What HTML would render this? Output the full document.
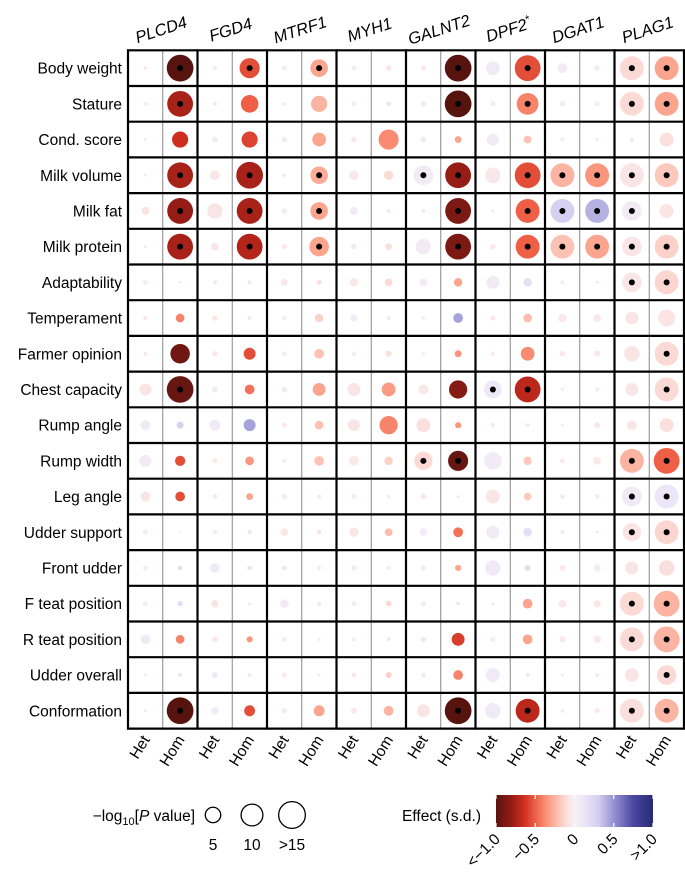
<!DOCTYPE html>
<html><head><meta charset="utf-8">
<style>
html,body{margin:0;padding:0;background:#fff;}
svg{display:block;font-family:"Liberation Sans",Arial,sans-serif;}
</style></head>
<body>
<svg id="chart" width="685" height="873" viewBox="0 0 685 873" xmlns="http://www.w3.org/2000/svg"></svg>
<script>
const genes = ["PLCD4","FGD4","MTRF1","MYH1","GALNT2","DPF2*","DGAT1","PLAG1"];
const genotypes = ["Het","Hom"];
const traits = ["Body weight","Stature","Cond. score","Milk volume","Milk fat","Milk protein","Adaptability","Temperament","Farmer opinion","Chest capacity","Rump angle","Rump width","Leg angle","Udder support","Front udder","F teat position","R teat position","Udder overall","Conformation"];
// -log10 P per trait row, 16 columns (gene x Het/Hom)
const pValues = [
[.3,15,.4,8.5,.5,6.5,.5,.6,.5,15,4,14,2,.6,12,12],
[.3,14,.3,6.5,.3,5.5,.5,.5,.6,15,.6,10,.6,.5,12,12],
[.2,5.5,.7,5.5,.6,4,.6,8.5,.7,1,3,1.3,.4,.2,.4,4],
[.2,14,2,15,.2,6.5,1.8,1.8,8,14,5,14,12,12,12,12],
[1.3,14,5,14,.6,6.5,1.3,.3,.3,14,.2,12,12,12,8,4],
[.2,14,1.2,14,.5,8,.6,1,5,14,.6,12,12,12,8,12],
[.5,.15,.4,.3,1,.5,1.5,1.2,1.2,1.5,3.5,1.5,.3,.2,8,12],
[.4,1.6,.6,.3,.3,1.5,1,.3,.2,2,.5,1.6,1.5,1.2,3.5,6],
[.3,8,.6,3,.4,2,.4,.8,.2,1,.4,4,.7,.8,5,12],
[3,15,.7,2,.7,3.5,3.5,4,2,7,6.5,14,.2,.3,3.5,12],
[2,1,2.5,3,.5,1.6,3,7,4,.8,.5,.3,.15,.7,2,4],
[3,2.2,.5,1.6,.3,2,2,1.5,7,8.5,6.5,1.5,.5,1.2,12,14],
[2,2,.5,1,.6,.3,.6,.3,.7,.15,4,1.2,.4,.5,8,12],
[.5,.1,.4,.4,1.2,.4,1.8,1.3,1.2,2,3.5,1.6,.3,.2,7,12],
[.4,.4,2,.4,.5,.3,.5,.3,.5,.8,5,.7,.7,1,3.5,5],
[.5,.6,1.2,.2,1.5,.4,.5,.7,.6,.3,.2,2,1.2,1.1,12,14],
[2,1.6,.7,.8,.4,.2,.3,.3,.7,3.5,.5,2,.8,1.2,12,14],
[.2,.3,.8,.3,.5,.2,.5,.8,.5,2,4,.3,.2,.3,4,8],
[.2,15,1.2,2.5,.6,2.5,.7,2,3.5,15,5,12,.3,.5,12,12]
];
// effect size (s.d.)
const effects = [
[-.05,-1,.05,-.55,.05,-.3,.05,-.08,-.05,-1,.08,-.55,.06,.05,-.12,-.3],
[-.03,-.75,-.05,-.5,.05,-.25,.05,.12,-.05,-1,.05,-.4,.05,.05,-.12,-.3],
[-.03,-.65,.06,-.58,.05,-.3,-.05,-.38,.06,-.3,.08,-.2,.05,-.05,-.05,-.1],
[-.03,-.75,-.06,-.75,-.1,-.28,-.06,-.12,.06,-.8,-.05,-.55,-.25,-.35,-.07,-.18],
[-.08,-.8,-.07,-.75,.06,-.3,.06,-.05,-.05,-.88,-.05,-.5,.3,.4,.06,-.08],
[-.05,-.75,-.07,-.72,-.06,-.3,.06,-.1,.06,-.88,-.06,-.5,-.2,-.3,-.07,-.15],
[.05,-.05,.06,.12,-.06,-.1,-.06,-.12,.06,-.3,.06,.18,-.05,-.05,-.07,-.13],
[-.05,-.4,-.05,-.07,-.05,-.15,.06,-.05,-.05,.45,-.05,-.22,-.06,-.06,-.07,-.08],
[-.05,-.92,-.06,-.55,-.05,-.2,.05,-.1,-.05,-.35,-.05,-.38,-.05,-.06,-.07,-.12],
[-.08,-.95,.06,-.45,.06,-.3,-.07,-.33,-.06,-.85,.1,-.7,-.05,-.05,-.07,-.12],
[.08,.3,.08,.45,-.05,-.2,-.07,-.4,-.1,-.35,.05,.1,-.05,-.06,-.07,-.1],
[.06,-.55,-.05,-.35,-.05,-.2,-.06,-.15,-.12,-.95,.06,-.18,-.05,-.06,-.25,-.5],
[-.08,-.55,.06,-.3,.06,-.07,.06,.06,-.06,-.1,-.07,-.18,-.05,.05,.08,.12],
[.06,-.05,.06,.12,-.06,-.1,-.07,-.22,.06,-.45,.08,.18,-.05,-.05,-.08,-.13],
[-.05,.2,.07,.15,-.05,-.06,-.06,.07,.05,-.3,.07,.2,-.05,.06,-.07,-.1],
[.06,.2,-.07,.06,.06,.1,.05,-.12,.05,.12,-.05,-.3,-.06,-.06,-.12,-.25],
[.06,-.4,-.06,-.35,-.05,.06,-.05,-.07,.06,-.6,.05,-.3,-.05,-.06,-.12,-.25],
[-.05,.15,.06,.1,-.05,-.05,-.05,-.15,.05,-.4,.07,.1,-.05,-.05,-.07,-.12],
[-.05,-1,.06,-.55,.06,-.3,-.06,-.25,-.07,-1,.08,-.7,.05,-.06,-.1,-.25]
];
// significance marker (1 = black dot)
const significant = [
[0,1,0,1,0,1,0,0,0,1,0,1,0,0,1,1],
[0,1,0,0,0,0,0,0,0,1,0,1,0,0,1,1],
[0,0,0,0,0,0,0,0,0,0,0,0,0,0,0,0],
[0,1,0,1,0,1,0,0,1,1,0,1,1,1,1,1],
[0,1,0,1,0,1,0,0,0,1,0,1,1,1,1,0],
[0,1,0,1,0,1,0,0,0,1,0,1,1,1,1,1],
[0,0,0,0,0,0,0,0,0,0,0,0,0,0,1,1],
[0,0,0,0,0,0,0,0,0,0,0,0,0,0,0,0],
[0,0,0,0,0,0,0,0,0,0,0,0,0,0,0,1],
[0,1,0,0,0,0,0,0,0,0,1,1,0,0,0,1],
[0,0,0,0,0,0,0,0,0,0,0,0,0,0,0,0],
[0,0,0,0,0,0,0,0,1,1,0,0,0,0,1,1],
[0,0,0,0,0,0,0,0,0,0,0,0,0,0,1,1],
[0,0,0,0,0,0,0,0,0,0,0,0,0,0,1,1],
[0,0,0,0,0,0,0,0,0,0,0,0,0,0,0,0],
[0,0,0,0,0,0,0,0,0,0,0,0,0,0,1,1],
[0,0,0,0,0,0,0,0,0,0,0,0,0,0,1,1],
[0,0,0,0,0,0,0,0,0,0,0,0,0,0,0,1],
[0,1,0,0,0,0,0,0,0,1,0,1,0,0,1,1]
];
const sizeLegendValues = [5,10,15];
const sizeLegendLabels = ["5","10",">15"];
const colorTickValues = [-1,-0.5,0,0.5,1];
const colorTickLabels = ["<\u22121.0","\u22120.5","0","0.5",">1.0"];

const NS="http://www.w3.org/2000/svg";
const svg=document.getElementById('chart');
const L=128,R=684,T=50.3,B=728.6;
const nCols=genes.length*2, nRows=traits.length;
const cw=(R-L)/nCols, rh=(B-T)/nRows;
const xCol=i=>L+cw*(i+0.5);
const yRow=j=>T+rh*(j+0.5);
const rScale=p=>3.45*Math.sqrt(Math.min(p,15));
const stops=[[-1,[87,20,15]],[-.8,[150,28,22]],[-.65,[205,45,30]],[-.5,[238,95,70]],[-.35,[250,150,125]],[-.2,[252,195,180]],[-.08,[250,228,228]],[0,[248,238,242]],[.12,[236,230,248]],[.3,[214,208,240]],[.5,[150,146,210]],[.75,[74,71,160]],[1,[38,42,116]]];
function color(v){v=Math.max(-1,Math.min(1,v));for(let k=0;k<stops.length-1;k++){const a=stops[k],b=stops[k+1];if(v<=b[0]){const t=(v-a[0])/(b[0]-a[0]);const c=a[1].map((x,i)=>Math.round(x+(b[1][i]-x)*t));return `rgb(${c.join(',')})`;}}return 'rgb(38,42,116)';}
function el(tag,attrs,parent){const e=document.createElementNS(NS,tag);for(const k in attrs)e.setAttribute(k,attrs[k]);(parent||svg).appendChild(e);return e;}

// dots
const gDots=el('g',{});


for(let j=0;j<nRows;j++){for(let i=0;i<nCols;i++){
  const c=el('circle',{cx:xCol(i),cy:yRow(j),r:rScale(pValues[j][i]),fill:color(effects[j][i])},gDots);
  
  
  if(significant[j][i]){const s=el('circle',{cx:xCol(i),cy:yRow(j),r:3,fill:'#000'},gDots);
    
    }
}}
// grid
const gGrid=el('g',{});


for(let i=0;i<=nCols;i++){const x=L+cw*i;const thick=i%2===0;
  el('line',{x1:x,x2:x,y1:T-1,y2:B+1,stroke:thick?'#000':'#888','stroke-width':thick?2.2:1},gGrid);}
for(let j=0;j<=nRows;j++){const y=T+rh*j;
  el('line',{x1:L-1,x2:R+1,y1:y,y2:y,stroke:'#000','stroke-width':2.2},gGrid);}
// row labels
traits.forEach((t,j)=>{const tx=el('text',{x:122,y:yRow(j)+5.5,'text-anchor':'end','font-size':15.5,fill:'#000'});tx.textContent=t;
  
  });
// gene labels
genes.forEach((g,k)=>{const cx=L+cw*(2*k+1);const tx=el('text',{x:0,y:0,'text-anchor':'middle','font-size':16.5,'font-style':'italic',fill:'#000',transform:`translate(${cx},35) rotate(-18)`});
  if(g.endsWith('*')){tx.textContent=g.slice(0,-1);const ts=el('tspan',{dy:-6,'font-size':11},tx);ts.textContent='*';}else tx.textContent=g;
  
  });
// genotype labels
for(let i=0;i<nCols;i++){const tx=el('text',{x:0,y:0,'text-anchor':'end','font-size':15.5,fill:'#000',transform:`translate(${xCol(i)+5},${B+11}) rotate(-58)`});tx.textContent=genotypes[i%2];
  
  }
// size legend
const gS=el('g',{});


const st=el('text',{x:195,y:821,'text-anchor':'end','font-size':15.5},gS);
st.innerHTML='\u2212log<tspan font-size="11" dy="4">10</tspan><tspan dy="-4">[</tspan><tspan font-style="italic">P</tspan> value]';


const lx=[213,252,292];
sizeLegendValues.forEach((v,k)=>{const c=el('circle',{cx:lx[k],cy:815,r:rScale(v),fill:'none',stroke:'#000','stroke-width':1.3},gS);
  
  
  const t=el('text',{x:lx[k],y:850,'text-anchor':'middle','font-size':15.5},gS);t.textContent=sizeLegendLabels[k];
  
  });
// color legend
const gC=el('g',{});


const ct=el('text',{x:481,y:821,'text-anchor':'end','font-size':15.5},gC);ct.textContent='Effect (s.d.)';


const cbL=496,cbR=653,cbT=795,cbB=827;
const cbx=v=>cbL+(v+1)/2*(cbR-cbL);
const defs=el('defs',{});const grad=el('linearGradient',{id:'cg',x1:0,x2:1,y1:0,y2:0},defs);
for(let k=0;k<=40;k++){const v=-1+k/20;el('stop',{offset:(k/40),'stop-color':color(v)},grad);}
const bar=el('rect',{x:cbL,y:cbT,width:cbR-cbL,height:cbB-cbT,fill:'url(#cg)'},gC);


colorTickValues.forEach((v,k)=>{const x=cbx(v);
  el('line',{x1:x,x2:x,y1:cbT,y2:cbT+4,stroke:'#fff','stroke-width':1.2},gC);
  el('line',{x1:x,x2:x,y1:cbB-4,y2:cbB,stroke:'#fff','stroke-width':1.2},gC);
  const t=el('text',{x:0,y:0,'text-anchor':'end','font-size':15.5,transform:`translate(${x+5},${cbB+13}) rotate(-45)`},gC);t.textContent=colorTickLabels[k];
  
  });
</script>
</body></html>
